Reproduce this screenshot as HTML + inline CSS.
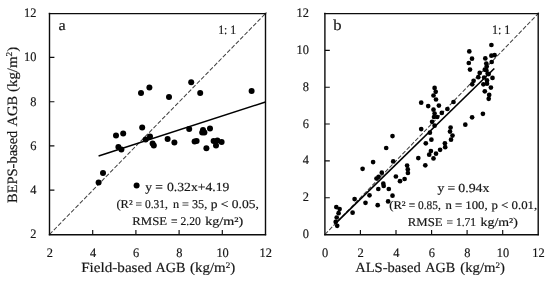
<!DOCTYPE html>
<html><head><meta charset="utf-8"><title>AGB scatter plots</title>
<style>
html,body{margin:0;padding:0;background:#fff;}
svg{display:block;}
text{font-family:"Liberation Serif",serif;fill:#161616;stroke:#161616;stroke-width:0.18px;text-rendering:geometricPrecision;}
</style></head><body>
<svg width="550" height="282" viewBox="0 0 550 282">
<rect width="550" height="282" fill="#fff"/>
<line x1="49.5" y1="234.5" x2="266.5" y2="12.5" stroke="#404040" stroke-width="1.02" stroke-dasharray="4.3 1.9"/>
<line x1="324.9" y1="234.5" x2="540.2" y2="11.5" stroke="#404040" stroke-width="1.02" stroke-dasharray="4.3 1.9"/>
<path d="M49.5 12.85V235.3M265.5 12.85V235.3" stroke="#0c0c0c" stroke-width="1.4" fill="none"/>
<path d="M48.8 13.55H266.2" stroke="#0c0c0c" stroke-width="1.35" fill="none"/>
<path d="M48.8 234.65H266.2" stroke="#0c0c0c" stroke-width="1.5" fill="none"/>
<path d="M92.7 234.5v-4.4M135.9 234.5v-4.4M179.1 234.5v-4.4M222.3 234.5v-4.4M49.5 190.1h4.9M49.5 145.8h4.9M49.5 101.7h4.9M49.5 57.4h4.9" stroke="#0c0c0c" stroke-width="1.15" fill="none"/>
<path d="M324.9 12.85V235.3M538.2 12.85V235.3" stroke="#0c0c0c" stroke-width="1.4" fill="none"/>
<path d="M324.2 13.55H538.9000000000001" stroke="#0c0c0c" stroke-width="1.35" fill="none"/>
<path d="M324.2 234.65H538.9000000000001" stroke="#0c0c0c" stroke-width="1.5" fill="none"/>
<path d="M360.4 234.5v-4.4M396.0 234.5v-4.4M431.6 234.5v-4.4M467.1 234.5v-4.4M502.7 234.5v-4.4M324.9 197.7h4.9M324.9 160.8h4.9M324.9 124.0h4.9M324.9 87.2h4.9M324.9 50.3h4.9" stroke="#0c0c0c" stroke-width="1.15" fill="none"/>
<line x1="98.6" y1="156" x2="265.5" y2="102" stroke="#000" stroke-width="1.5"/>
<line x1="336.3" y1="222.6" x2="494.3" y2="68.5" stroke="#000" stroke-width="1.6"/>
<g fill="#000">
<circle cx="141" cy="93" r="3"/><circle cx="149.4" cy="87.6" r="3"/><circle cx="169" cy="97" r="3"/><circle cx="191.2" cy="82.2" r="3"/><circle cx="200.2" cy="93" r="3"/><circle cx="251.6" cy="91" r="3"/><circle cx="142.2" cy="127.4" r="3"/><circle cx="116" cy="135.6" r="3"/><circle cx="123.2" cy="133.4" r="3"/><circle cx="118.4" cy="147" r="3"/><circle cx="121.4" cy="149.4" r="3"/><circle cx="145.6" cy="139.4" r="3"/><circle cx="150" cy="136.4" r="3"/><circle cx="152.6" cy="143.6" r="3"/><circle cx="153.8" cy="145.6" r="3"/><circle cx="167.6" cy="139" r="3"/><circle cx="174.4" cy="142.6" r="3"/><circle cx="189.2" cy="129" r="3"/><circle cx="194.6" cy="141.4" r="3"/><circle cx="196.6" cy="141" r="3"/><circle cx="203" cy="130" r="3"/><circle cx="202.2" cy="132.6" r="3"/><circle cx="204.4" cy="132.6" r="3"/><circle cx="210" cy="128.4" r="3"/><circle cx="206.4" cy="148.2" r="3"/><circle cx="213.6" cy="141" r="3"/><circle cx="217.4" cy="140.4" r="3"/><circle cx="221.6" cy="142" r="3"/><circle cx="216" cy="145.4" r="3"/><circle cx="103" cy="173" r="3"/><circle cx="98.6" cy="182.6" r="3"/><circle cx="136.6" cy="185.6" r="3"/>
</g>
<g fill="#000">
<circle cx="491.4" cy="45.0" r="2.35"/><circle cx="469.3" cy="51.4" r="2.35"/><circle cx="472.0" cy="58.7" r="2.35"/><circle cx="468.8" cy="63.0" r="2.35"/><circle cx="470.0" cy="69.6" r="2.35"/><circle cx="491.4" cy="55.7" r="2.35"/><circle cx="494.6" cy="55.2" r="2.35"/><circle cx="485.3" cy="58.4" r="2.35"/><circle cx="491.7" cy="62.0" r="2.35"/><circle cx="486.3" cy="63.5" r="2.35"/><circle cx="486.7" cy="66.4" r="2.35"/><circle cx="484.8" cy="69.7" r="2.35"/><circle cx="479.7" cy="72.9" r="2.35"/><circle cx="487.7" cy="73.6" r="2.35"/><circle cx="478.3" cy="77.2" r="2.35"/><circle cx="492.5" cy="77.9" r="2.35"/><circle cx="486.3" cy="70.2" r="2.35"/><circle cx="488.7" cy="74.1" r="2.35"/><circle cx="484.1" cy="77.5" r="2.35"/><circle cx="487" cy="80.4" r="2.35"/><circle cx="473.6" cy="80.8" r="2.35"/><circle cx="472.2" cy="84.3" r="2.35"/><circle cx="483.4" cy="84.3" r="2.35"/><circle cx="487" cy="83.7" r="2.35"/><circle cx="490.9" cy="87.6" r="2.35"/><circle cx="484.8" cy="91.3" r="2.35"/><circle cx="489.2" cy="94.9" r="2.35"/><circle cx="488.7" cy="98.8" r="2.35"/><circle cx="434.6" cy="87.9" r="2.35"/><circle cx="435.7" cy="91.8" r="2.35"/><circle cx="433.5" cy="95.5" r="2.35"/><circle cx="436" cy="99.5" r="2.35"/><circle cx="421.2" cy="102.7" r="2.35"/><circle cx="428.2" cy="106.1" r="2.35"/><circle cx="438.9" cy="105.6" r="2.35"/><circle cx="433.5" cy="109.7" r="2.35"/><circle cx="447.4" cy="109" r="2.35"/><circle cx="453.5" cy="102" r="2.35"/><circle cx="441.8" cy="112.9" r="2.35"/><circle cx="434.6" cy="113.6" r="2.35"/><circle cx="434" cy="117" r="2.35"/><circle cx="437.2" cy="117" r="2.35"/><circle cx="472.1" cy="117.3" r="2.35"/><circle cx="432.1" cy="121.8" r="2.35"/><circle cx="434.6" cy="125.7" r="2.35"/><circle cx="421.2" cy="129.1" r="2.35"/><circle cx="429.9" cy="132.7" r="2.35"/><circle cx="431.4" cy="139.7" r="2.35"/><circle cx="425.8" cy="143.3" r="2.35"/><circle cx="465.3" cy="124.7" r="2.35"/><circle cx="450.6" cy="127.6" r="2.35"/><circle cx="450" cy="131.6" r="2.35"/><circle cx="452.5" cy="135.6" r="2.35"/><circle cx="451" cy="139.7" r="2.35"/><circle cx="444.9" cy="143.3" r="2.35"/><circle cx="445.2" cy="147.2" r="2.35"/><circle cx="440.1" cy="149.8" r="2.35"/><circle cx="436" cy="153.7" r="2.35"/><circle cx="430.9" cy="151.1" r="2.35"/><circle cx="429.2" cy="154.7" r="2.35"/><circle cx="433.5" cy="158.4" r="2.35"/><circle cx="418.3" cy="158.1" r="2.35"/><circle cx="425.3" cy="165.3" r="2.35"/><circle cx="407.1" cy="165.6" r="2.35"/><circle cx="407.8" cy="169.4" r="2.35"/><circle cx="407.9" cy="173" r="2.35"/><circle cx="395.9" cy="176.5" r="2.35"/><circle cx="404.6" cy="179" r="2.35"/><circle cx="386.2" cy="148" r="2.35"/><circle cx="373.1" cy="162.1" r="2.35"/><circle cx="393.2" cy="161.4" r="2.35"/><circle cx="362.6" cy="168.8" r="2.35"/><circle cx="381.8" cy="172.7" r="2.35"/><circle cx="378.6" cy="176.8" r="2.35"/><circle cx="376.5" cy="178.5" r="2.35"/><circle cx="400" cy="181.2" r="2.35"/><circle cx="383.3" cy="183.7" r="2.35"/><circle cx="383.7" cy="186" r="2.35"/><circle cx="378.3" cy="189" r="2.35"/><circle cx="388.8" cy="189" r="2.35"/><circle cx="392.5" cy="195.7" r="2.35"/><circle cx="388.1" cy="201.4" r="2.35"/><circle cx="377.7" cy="205.2" r="2.35"/><circle cx="369.5" cy="195.3" r="2.35"/><circle cx="365.5" cy="202.8" r="2.35"/><circle cx="354.6" cy="199.1" r="2.35"/><circle cx="352.6" cy="212.7" r="2.35"/><circle cx="336.3" cy="207.1" r="2.35"/><circle cx="339.6" cy="209.1" r="2.35"/><circle cx="338.6" cy="213.2" r="2.35"/><circle cx="336.7" cy="217.5" r="2.35"/><circle cx="335.7" cy="221.9" r="2.35"/><circle cx="337.2" cy="225.8" r="2.35"/><circle cx="482.9" cy="113.8" r="2.35"/><circle cx="392.5" cy="136.1" r="2.35"/>
</g>
<text x="30.3" y="238.1" font-size="13" textLength="6.2" lengthAdjust="spacingAndGlyphs">2</text><text x="30.3" y="193.9" font-size="13" textLength="6.2" lengthAdjust="spacingAndGlyphs">4</text><text x="30.3" y="149.7" font-size="13" textLength="6.2" lengthAdjust="spacingAndGlyphs">6</text><text x="30.3" y="105.5" font-size="13" textLength="6.2" lengthAdjust="spacingAndGlyphs">8</text><text x="24.1" y="61.3" font-size="13" textLength="12.4" lengthAdjust="spacingAndGlyphs">10</text><text x="24.1" y="17.1" font-size="13" textLength="12.4" lengthAdjust="spacingAndGlyphs">12</text><text x="46.7" y="256.6" font-size="13" textLength="6.2" lengthAdjust="spacingAndGlyphs">2</text><text x="89.9" y="256.6" font-size="13" textLength="6.2" lengthAdjust="spacingAndGlyphs">4</text><text x="133.1" y="256.6" font-size="13" textLength="6.2" lengthAdjust="spacingAndGlyphs">6</text><text x="176.3" y="256.6" font-size="13" textLength="6.2" lengthAdjust="spacingAndGlyphs">8</text><text x="216.4" y="256.6" font-size="13" textLength="12.4" lengthAdjust="spacingAndGlyphs">10</text><text x="259.6" y="256.6" font-size="13" textLength="12.4" lengthAdjust="spacingAndGlyphs">12</text><text x="302.7" y="238.1" font-size="13" textLength="6.2" lengthAdjust="spacingAndGlyphs">0</text><text x="302.7" y="201.3" font-size="13" textLength="6.2" lengthAdjust="spacingAndGlyphs">2</text><text x="302.7" y="164.4" font-size="13" textLength="6.2" lengthAdjust="spacingAndGlyphs">4</text><text x="302.7" y="127.6" font-size="13" textLength="6.2" lengthAdjust="spacingAndGlyphs">6</text><text x="302.7" y="90.8" font-size="13" textLength="6.2" lengthAdjust="spacingAndGlyphs">8</text><text x="296.5" y="54.0" font-size="13" textLength="12.4" lengthAdjust="spacingAndGlyphs">10</text><text x="296.5" y="17.1" font-size="13" textLength="12.4" lengthAdjust="spacingAndGlyphs">12</text><text x="322.1" y="256.8" font-size="13" textLength="6.2" lengthAdjust="spacingAndGlyphs">0</text><text x="357.6" y="256.8" font-size="13" textLength="6.3" lengthAdjust="spacingAndGlyphs">2</text><text x="393.2" y="256.8" font-size="13" textLength="6.2" lengthAdjust="spacingAndGlyphs">4</text><text x="428.7" y="256.8" font-size="13" textLength="6.2" lengthAdjust="spacingAndGlyphs">6</text><text x="464.3" y="256.8" font-size="13" textLength="6.2" lengthAdjust="spacingAndGlyphs">8</text><text x="496.8" y="256.8" font-size="13" textLength="12.3" lengthAdjust="spacingAndGlyphs">10</text><text x="532.3" y="256.8" font-size="13" textLength="12.4" lengthAdjust="spacingAndGlyphs">12</text>
<text x="81.2" y="272.3" font-size="14" textLength="70.6" lengthAdjust="spacingAndGlyphs">Field-based</text><text x="155.6" y="272.3" font-size="14" textLength="29.9" lengthAdjust="spacingAndGlyphs">AGB</text><text x="190.0" y="272.3" font-size="14" textLength="45.2" lengthAdjust="spacingAndGlyphs">(kg/m<tspan font-size="8.5" dy="-4.6">2</tspan><tspan dy="4.6">)</tspan></text>
<text x="355.2" y="272.3" font-size="14" textLength="65.6" lengthAdjust="spacingAndGlyphs">ALS-based</text><text x="425.2" y="272.3" font-size="14" textLength="29.9" lengthAdjust="spacingAndGlyphs">AGB</text><text x="460.3" y="272.3" font-size="14" textLength="44.6" lengthAdjust="spacingAndGlyphs">(kg/m<tspan font-size="8.5" dy="-4.6">2</tspan><tspan dy="4.6">)</tspan></text>
<g transform="translate(17,203.0) rotate(-90)"><text x="0.1" y="0" font-size="14.3" textLength="72.2" lengthAdjust="spacingAndGlyphs">BEPS-based</text><text x="76.5" y="0" font-size="14.3" textLength="30.8" lengthAdjust="spacingAndGlyphs">AGB</text><text x="111.1" y="0" font-size="14.3" textLength="45.0" lengthAdjust="spacingAndGlyphs">(kg/m<tspan font-size="9" dy="-5">2</tspan><tspan dy="5">)</tspan></text></g>
<text x="58.6" y="30.3" font-size="14.6" textLength="7.2" lengthAdjust="spacingAndGlyphs">a</text><text x="333.2" y="30.1" font-size="15" textLength="8.3" lengthAdjust="spacingAndGlyphs">b</text><text x="218.2" y="34.3" font-size="12.8" textLength="18.0" lengthAdjust="spacingAndGlyphs" fill="#2a2a2a">1: 1</text><text x="491.9" y="34.1" font-size="13" textLength="18.4" lengthAdjust="spacingAndGlyphs" fill="#2a2a2a">1: 1</text>
<text x="145.2" y="190.9" font-size="12.5" textLength="17.8" lengthAdjust="spacingAndGlyphs">y =</text><text x="167.0" y="190.9" font-size="12.5" textLength="62.4" lengthAdjust="spacingAndGlyphs">0.32x+4.19</text>
<text x="116.5" y="208.0" font-size="12" textLength="16.1" lengthAdjust="spacingAndGlyphs">(R²</text><text x="135.6" y="208.0" font-size="12" textLength="32.4" lengthAdjust="spacingAndGlyphs">= 0.31,</text><text x="172.9" y="208.0" font-size="12" textLength="34.4" lengthAdjust="spacingAndGlyphs">n = 35,</text><text x="210.7" y="208.0" font-size="12" textLength="48.2" lengthAdjust="spacingAndGlyphs">p &lt; 0.05,</text>
<text x="132.3" y="225" font-size="11.8" textLength="34.8" lengthAdjust="spacingAndGlyphs">RMSE</text><text x="171.1" y="225" font-size="11.8" textLength="29.7" lengthAdjust="spacingAndGlyphs">= 2.20</text><text x="205.2" y="225" font-size="11.8" textLength="37.9" lengthAdjust="spacingAndGlyphs">kg/m²)</text>
<text x="437.4" y="191.9" font-size="12.3" textLength="17.9" lengthAdjust="spacingAndGlyphs">y =</text><text x="458.3" y="191.9" font-size="12.3" textLength="31.1" lengthAdjust="spacingAndGlyphs">0.94x</text>
<text x="389.2" y="209.2" font-size="11.8" textLength="16.5" lengthAdjust="spacingAndGlyphs">(R²</text><text x="408.7" y="209.2" font-size="11.8" textLength="32.1" lengthAdjust="spacingAndGlyphs">= 0.85,</text><text x="445.4" y="209.2" font-size="11.8" textLength="42.3" lengthAdjust="spacingAndGlyphs">n = 100,</text><text x="491.5" y="209.2" font-size="11.8" textLength="45.7" lengthAdjust="spacingAndGlyphs">p &lt; 0.01,</text>
<text x="407.8" y="226.4" font-size="12" textLength="34.8" lengthAdjust="spacingAndGlyphs">RMSE</text><text x="446.5" y="226.4" font-size="12" textLength="29.6" lengthAdjust="spacingAndGlyphs">= 1.71</text><text x="480.6" y="226.4" font-size="12" textLength="37.3" lengthAdjust="spacingAndGlyphs">kg/m²)</text>
</svg>
</body></html>
